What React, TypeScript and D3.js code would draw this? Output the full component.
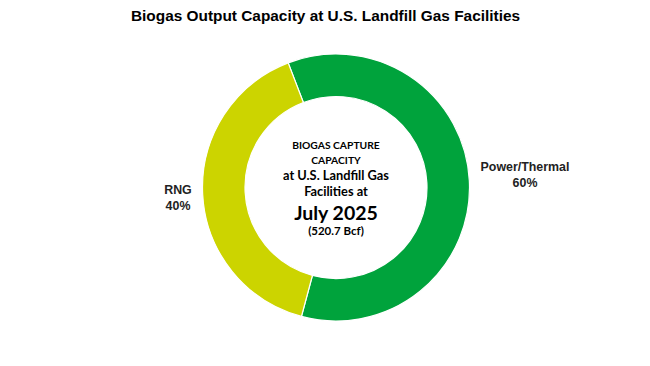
import React from "react";
import * as d3 from "d3";

const categories = ["Power/Thermal", "RNG"];
const values = [60, 40];
const colors = ["#00A33C", "#CCD400"];
const centerLines = ["BIOGAS CAPTURE", "CAPACITY", "at U.S. Landfill Gas", "Facilities at", "July 2025", "(520.7 Bcf)"];
const title = "Biogas Output Capacity at U.S. Landfill Gas Facilities";

export default function App() {
  const W = 650, H = 366;
  const cx = 336, cy = 187.5, rOuter = 133.5, rInner = 91;
  const start = (-21 * Math.PI) / 180;
  const pie = d3.pie<number>().sort(null).startAngle(start).endAngle(start + 2 * Math.PI);
  const arcs = pie(values);
  const arc = d3.arc<d3.PieArcDatum<number>>().innerRadius(rInner).outerRadius(rOuter);
  const centerFont = "Lato, 'Open Sans', sans-serif";
  const centerStyle = [
    { y: 149, size: 10.3 },
    { y: 164, size: 10.3 },
    { y: 179.5, size: 12.8 },
    { y: 196, size: 12.8 },
    { y: 220, size: 19.5 },
    { y: 235, size: 11.5 },
  ];
  const labelPos = [
    { x: 525, y: 171 },
    { x: 178, y: 194 },
  ];
  return (
    <svg width={W} height={H} style={{ position: "absolute", left: 0, top: 0 }}>
      <rect width={W} height={H} fill="#fff" />
      <text x={325.5} y={21} textAnchor="middle" fontFamily="'Liberation Sans', Arial, sans-serif" fontWeight="bold" fontSize={15.4} fill="#000">{title}</text>
      <g transform={`translate(${cx},${cy})`}>
        {arcs.map((a, i) => (
          <path key={i} d={arc(a) as string} fill={colors[i]} stroke="#fff" strokeWidth={1.2} />
        ))}
      </g>
      {centerLines.map((t, i) => (
        <text key={i} x={cx} y={centerStyle[i].y} textAnchor="middle" fontFamily={centerFont} fontWeight="bold" fontSize={centerStyle[i].size} fill="#000">{t}</text>
      ))}
      {categories.map((c, i) => (
        <g key={c}>
          <text x={labelPos[i].x} y={labelPos[i].y} textAnchor="middle" fontFamily="'Liberation Sans', Arial, sans-serif" fontWeight="bold" fontSize={12.4} fill="#222">{c}</text>
          <text x={labelPos[i].x} y={labelPos[i].y + 16} textAnchor="middle" fontFamily="'Liberation Sans', Arial, sans-serif" fontWeight="bold" fontSize={12.4} fill="#222">{values[i] + "%"}</text>
        </g>
      ))}
    </svg>
  );
}
